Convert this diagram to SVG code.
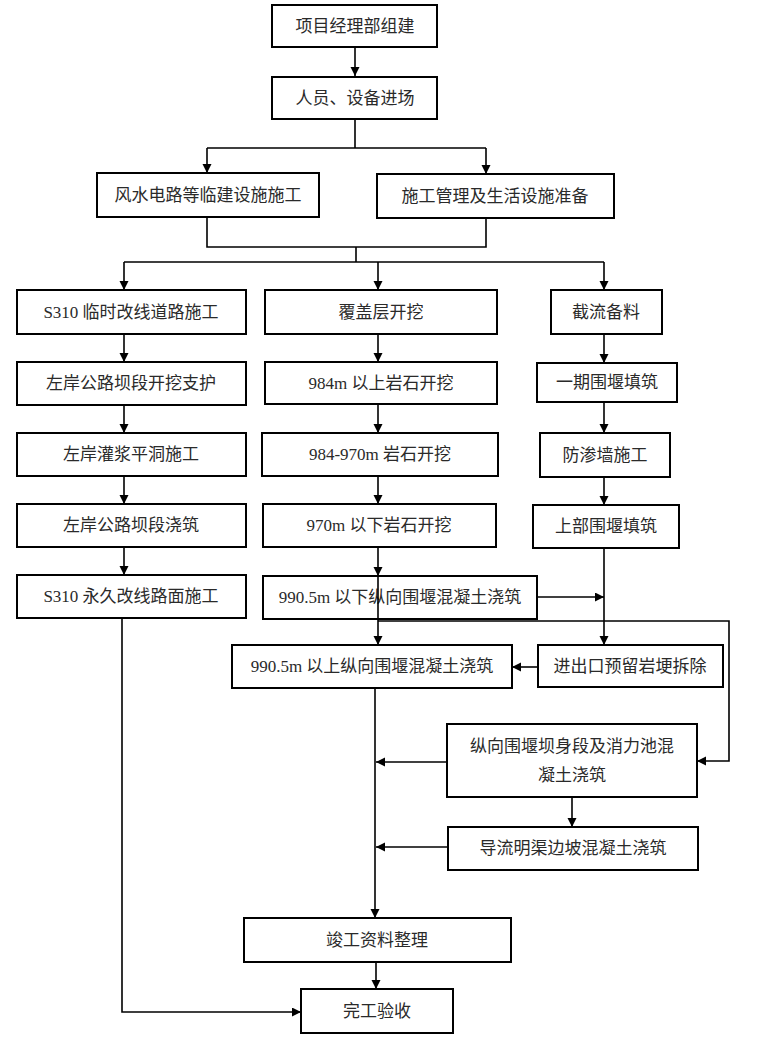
<svg xmlns="http://www.w3.org/2000/svg" width="760" height="1043" viewBox="0 0 760 1043">
<defs>
<marker id="ah" markerUnits="userSpaceOnUse" markerWidth="10" markerHeight="10" refX="9" refY="4.5" orient="auto">
<path d="M0,0 L9,4.5 L0,9 z" fill="#000"/>
</marker>
<style>
rect{fill:#fff;stroke:#000;stroke-width:2}
text{font-family:"Liberation Serif","Noto Sans CJK SC",serif;font-size:17px;fill:#2a2a2a;text-anchor:middle}
.c path{fill:none;stroke:#000;stroke-width:1.6}
.c .a{marker-end:url(#ah)}
</style>
</defs>
<rect width="760" height="1043" style="fill:#fff;stroke:none"/>
<g id="n1"><rect x="272" y="5" width="165" height="42"/><text x="355" y="32">项目经理部组建</text></g>
<g id="n2"><rect x="272" y="77" width="165" height="42"/><text x="355" y="104">人员、设备进场</text></g>
<g id="n3"><rect x="97" y="173" width="222" height="44"/><text x="208" y="201">风水电路等临建设施施工</text></g>
<g id="n4"><rect x="377" y="174" width="237" height="44"/><text x="495" y="202">施工管理及生活设施准备</text></g>
<g id="n5"><rect x="17" y="290" width="229" height="44"/><text x="131" y="318">S310 临时改线道路施工</text></g>
<g id="n6"><rect x="17" y="362" width="229" height="43"/><text x="131" y="389">左岸公路坝段开挖支护</text></g>
<g id="n7"><rect x="17" y="433" width="229" height="43"/><text x="131" y="460">左岸灌浆平洞施工</text></g>
<g id="n8"><rect x="17" y="504" width="229" height="43"/><text x="131" y="531">左岸公路坝段浇筑</text></g>
<g id="n9"><rect x="17" y="575" width="229" height="43"/><text x="131" y="602">S310 永久改线路面施工</text></g>
<g id="n10"><rect x="265" y="290" width="232" height="44"/><text x="381" y="318">覆盖层开挖</text></g>
<g id="n11"><rect x="265" y="362" width="232" height="42"/><text x="381" y="389">984m 以上岩石开挖</text></g>
<g id="n12"><rect x="262" y="433" width="236" height="43"/><text x="380" y="460">984-970m 岩石开挖</text></g>
<g id="n13"><rect x="263" y="504" width="233" height="43"/><text x="379" y="531">970m 以下岩石开挖</text></g>
<g id="n14"><rect x="263" y="576" width="274" height="43"/><text x="400" y="603">990.5m 以下纵向围堰混凝土浇筑</text></g>
<g id="n15"><rect x="232" y="645" width="280" height="43"/><text x="372" y="672">990.5m 以上纵向围堰混凝土浇筑</text></g>
<g id="n16"><rect x="551" y="290" width="111" height="44"/><text x="606" y="318">截流备料</text></g>
<g id="n17"><rect x="537" y="363" width="140" height="39"/><text x="607" y="388">一期围堰填筑</text></g>
<g id="n18"><rect x="540" y="433" width="130" height="44"/><text x="605" y="461">防渗墙施工</text></g>
<g id="n19"><rect x="533" y="505" width="146" height="43"/><text x="606" y="532">上部围堰填筑</text></g>
<g id="n20"><rect x="538" y="645" width="185" height="42"/><text x="630" y="672">进出口预留岩埂拆除</text></g>
<g id="n21"><rect x="447" y="724" width="250" height="73"/><text x="572" y="752">纵向围堰坝身段及消力池混</text><text x="572" y="781">凝土浇筑</text></g>
<g id="n22"><rect x="448" y="827" width="250" height="43"/><text x="573" y="854">导流明渠边坡混凝土浇筑</text></g>
<g id="n23"><rect x="244" y="918" width="267" height="44"/><text x="377" y="946">竣工资料整理</text></g>
<g id="n24"><rect x="301" y="989" width="152" height="44"/><text x="377" y="1017">完工验收</text></g>
<g id="connectors" class="c">
<path class="a" d="M355,47 V76"/>
<path d="M355,119 V148 M207,148 H486"/>
<path class="a" d="M207,148 V173"/>
<path class="a" d="M486,148 V174"/>
<path d="M207,217 V247 H486 V218 M356,247 V262 M124,262 H604"/>
<path class="a" d="M124,262 V290"/>
<path class="a" d="M378,262 V290"/>
<path class="a" d="M604,262 V290"/>
<path class="a" d="M124,334 V362"/>
<path class="a" d="M124,405 V433"/>
<path class="a" d="M124,476 V504"/>
<path class="a" d="M124,547 V575"/>
<path class="a" d="M378,334 V362"/>
<path class="a" d="M378,404 V433"/>
<path class="a" d="M378,476 V504"/>
<path class="a" d="M378,547 V576"/>
<path class="a" d="M378,576 V645"/>
<path class="a" d="M378,621 H729 V761 H697"/>
<path class="a" d="M537,597 H604"/>
<path class="a" d="M604,334 V363"/>
<path class="a" d="M604,402 V433"/>
<path class="a" d="M604,477 V505"/>
<path class="a" d="M604,548 V645"/>
<path class="a" d="M538,667 H512"/>
<path class="a" d="M375,688 V918"/>
<path class="a" d="M447,762 H376"/>
<path class="a" d="M572,797 V827"/>
<path class="a" d="M448,847 H376"/>
<path class="a" d="M376,962 V989"/>
<path class="a" d="M122,618 V1012 H301"/>
</g>
</svg>
